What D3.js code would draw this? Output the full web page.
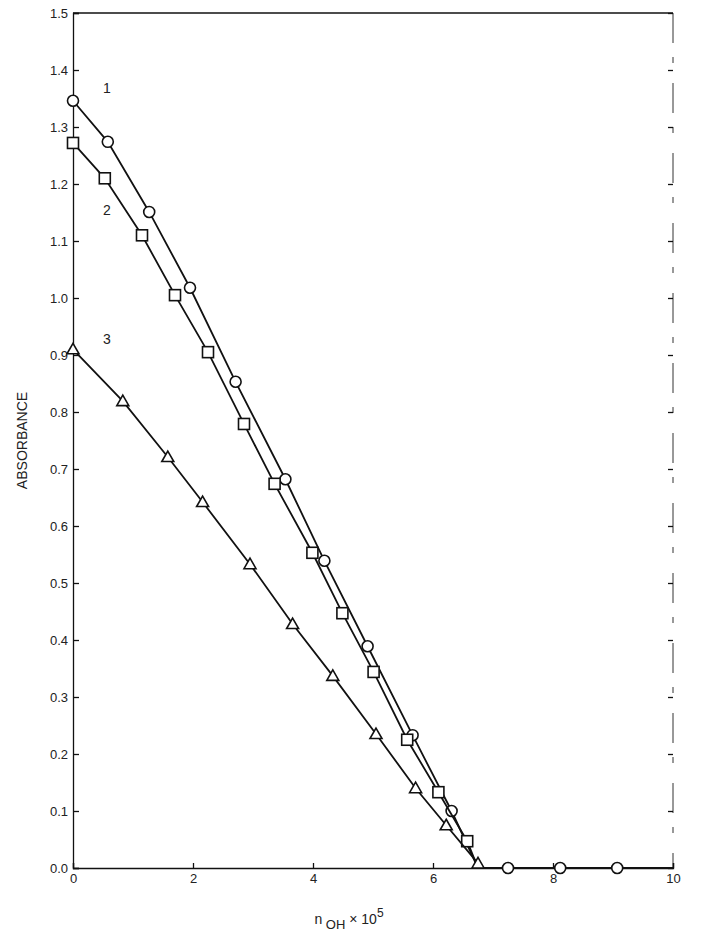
<!DOCTYPE html>
<html><head><meta charset="utf-8">
<script src="https://cdn.jsdelivr.net/npm/d3@7"></script>
<style>body{margin:0;background:#fff}text{font-family:"Liberation Sans",Arial,sans-serif;fill:#222}</style>
</head><body><svg id="c" width="714" height="934"></svg>
<script>
const xTicks=[0,2,4,6,8,10];
const yTicks=[0,0.1,0.2,0.3,0.4,0.5,0.6,0.7,0.8,0.9,1.0,1.1,1.2,1.3,1.4,1.5];
const yTickLabels=["0.0","0.1","0.2","0.3","0.4","0.5","0.6","0.7","0.8","0.9","1.0","1.1","1.2","1.3","1.4","1.5"];
// curve 1 (circles)
const s1x=[0,0.58,1.27,1.95,2.71,3.54,4.19,4.91,5.66,6.31,6.75,7.25,8.12,9.07,10];
const s1y=[1.346,1.274,1.151,1.018,0.853,0.682,0.539,0.389,0.233,0.10,0,0,0,0,0];
const s1m=[1,1,1,1,1,1,1,1,1,1,0,1,1,1,0];
// curve 2 (squares)
const s2x=[0,0.53,1.15,1.70,2.25,2.85,3.36,3.99,4.49,5.01,5.57,6.09,6.57,6.75];
const s2y=[1.272,1.21,1.11,1.005,0.905,0.779,0.674,0.553,0.447,0.344,0.225,0.133,0.047,0];
const s2m=[1,1,1,1,1,1,1,1,1,1,1,1,1,0];
// curve 3 (triangles)
const s3x=[0,0.83,1.58,2.16,2.95,3.66,4.33,5.05,5.71,6.22,6.75];
const s3y=[0.91,0.819,0.721,0.642,0.533,0.428,0.337,0.235,0.14,0.075,0.008];
const s3m=[1,1,1,1,1,1,1,1,1,1,1];
const curveLabels=["1","2","3"];

const svg=d3.select("#c");
const x=d3.scaleLinear().domain([0,10]).range([73,673]);
const y=d3.scaleLinear().domain([0,1.5]).range([868,13]);

// frame
svg.append("line").attr("x1",x(0)).attr("x2",x(10)).attr("y1",y(1.5)).attr("y2",y(1.5)).attr("stroke","#111").attr("stroke-width",1.3);
svg.append("line").attr("x1",x(10)).attr("x2",x(10)).attr("y1",y(1.5)).attr("y2",y(0)).attr("stroke","#333").attr("stroke-width",1).attr("stroke-dasharray","30,14,6,20");

const gx=svg.append("g").attr("transform",`translate(0,${y(0)})`)
 .call(d3.axisBottom(x).tickValues(xTicks).tickFormat(d3.format("d")).tickSize(-5).tickPadding(6));
const gy=svg.append("g").attr("transform",`translate(${x(0)},0)`)
 .call(d3.axisLeft(y).tickValues(yTicks).tickFormat((d,i)=>yTickLabels[i]).tickSize(-6).tickPadding(5));
const gr=svg.append("g").attr("transform",`translate(${x(10)},0)`)
 .call(d3.axisRight(y).tickValues(yTicks).tickFormat("").tickSize(-5));
gr.select(".domain").remove();
[gx,gy,gr].forEach(g=>{g.selectAll("path,line").attr("stroke","#111").attr("stroke-width",1.3);g.selectAll("text").attr("font-size",13).attr("fill","#222");});

const series=[[s1x,s1y,s1m,"c"],[s2x,s2y,s2m,"s"],[s3x,s3y,s3m,"t"]];
const line=d3.line().x(d=>x(d[0])).y(d=>y(d[1]));
series.forEach(([xs,ys,ms,sh])=>{
  const pts=xs.map((v,i)=>[v,ys[i],ms[i]]);
  svg.append("path").attr("d",line(pts)).attr("fill","none").attr("stroke","#111").attr("stroke-width",1.8);
  const g=svg.append("g");
  pts.filter(p=>p[2]).forEach(p=>{
    const cx=x(p[0]),cy=y(p[1]);
    if(sh==="c")g.append("circle").attr("cx",cx).attr("cy",cy).attr("r",5.5);
    else if(sh==="s")g.append("rect").attr("x",cx-5.5).attr("y",cy-5.5).attr("width",11).attr("height",11);
    else g.append("path").attr("d",`M${cx},${cy-6}L${cx+6},${cy+4.5}L${cx-6},${cy+4.5}Z`);
  });
  g.selectAll("*").attr("fill","#fff").attr("stroke","#111").attr("stroke-width",1.6);
});

svg.append("text").attr("x",x(0.5)).attr("y",y(1.36)).attr("font-size",14).text(curveLabels[0]);
svg.append("text").attr("x",x(0.5)).attr("y",y(1.145)).attr("font-size",14).text(curveLabels[1]);
svg.append("text").attr("x",x(0.5)).attr("y",y(0.92)).attr("font-size",14).text(curveLabels[2]);

svg.append("text").attr("transform",`translate(27,${y(0.75)}) rotate(-90)`).attr("text-anchor","middle").attr("font-size",14).text("ABSORBANCE");
const xl=svg.append("text").attr("x",x(4.6)).attr("y",924).attr("text-anchor","middle").attr("font-size",14);
xl.append("tspan").text("n");
xl.append("tspan").attr("dy",5).attr("font-size",13).text(" OH");
xl.append("tspan").attr("dy",-5).text(" × 10");
xl.append("tspan").attr("dy",-7).attr("font-size",12).text("5");
</script></body></html>
